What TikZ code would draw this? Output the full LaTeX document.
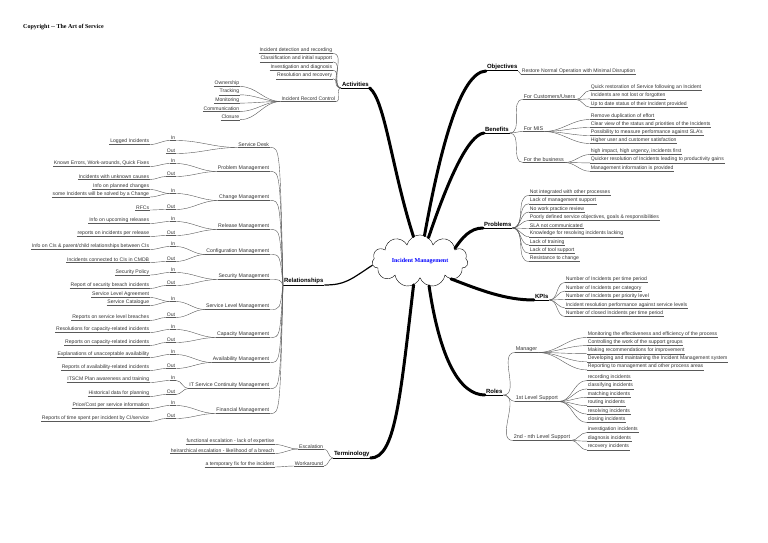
\documentclass[tikz,border=0pt]{standalone}
\usepackage{fontspec}
\setmainfont{Liberation Sans}
\newfontfamily\serifb{Liberation Serif}
\usetikzlibrary{shapes.symbols}
\tikzset{
 x=1pt,y=-1pt,
 ulbase/.style={inner sep=0.7pt,text=black!80,
   append after command={\pgfextra{\draw[conn] (\tikzlastnode.south west)--(\tikzlastnode.south east);}}},
 rleaf/.style={ulbase,anchor=south west,font=\fontsize{5.1}{6}\selectfont},
 lleaf/.style={ulbase,anchor=south east,font=\fontsize{5.1}{6}\selectfont},
 rsub/.style={ulbase,anchor=south west,font=\fontsize{5.4}{6}\selectfont},
 lsub/.style={ulbase,anchor=south east,font=\fontsize{5.2}{6}\selectfont},
 mainlab/.style={inner sep=0.8pt,anchor=south west,font=\bfseries\fontsize{6}{7}\selectfont,
   append after command={\pgfextra{\draw[line width=1pt] (\tikzlastnode.south west)--(\tikzlastnode.south east);}}},
 conn/.style={draw=black!65,line width=0.4pt},
 trunk/.style={draw=black,line width=3pt,line cap=round},
}
\newcommand\relsub[5]{%
 \node[lsub] (#1) at (270,#3+2.5) {#2};
 \draw[conn] (rel.south west) .. controls (280,#3+2.5) .. (#1.south east);
 \node[lleaf] (#1in) at (176,#4+2.5) {In};
 \node[lleaf] (#1out) at (176,#5+2.5) {Out};
 \draw[conn] (#1in.south east) to[out=0,in=180] (#1.south west);
 \draw[conn] (#1out.south east) to[out=0,in=180] (#1.south west);}
\newcommand\lf[4]{%
 \node[lleaf] (#1) at (150,#3+2.5) {#4};
 \draw[conn] (#1.south east) to[out=0,in=180] (#2.south west);}
\begin{document}
\begin{tikzpicture}
\useasboundingbox[fill=white] (0,0) rectangle (768,543);
\node[anchor=west,font=\serifb\bfseries\fontsize{6}{7}\selectfont,inner sep=0] (copy) at (23,27) {Copyright -- The Art of Service};
% centre
\node[cloud,draw,cloud puffs=11,aspect=2.2,minimum width=96,minimum height=46,inner sep=0,
  font=\serifb\bfseries\fontsize{6}{7}\selectfont,text=blue] (im) at (420,261) {Incident Management};
% main labels
\node[mainlab] (act) at (341,88) {Activities};
\node[mainlab] (obj) at (486,71) {Objectives};
\node[mainlab] (ben) at (484,133) {Benefits};
\node[mainlab] (prob) at (483,228) {Problems};
\node[mainlab] (kpi) at (534,300) {KPIs};
\node[mainlab] (roles) at (485,395) {Roles};
\node[mainlab] (term) at (333,458) {Terminology};
\node[mainlab] (rel) at (283,285) {Relationships};
% trunks
\draw[trunk] (im.105) .. controls (392,170) and (385,100) .. (act.south east);
\draw[trunk] (im.80) .. controls (440,150) and (460,72) .. (obj.south west);
\draw[trunk] (im.70) .. controls (448,180) and (468,135) .. (ben.south west);
\draw[trunk] (im.20) .. controls (462,238) and (470,228) .. (prob.south west);
\draw[trunk] (im.-30) .. controls (480,290) and (505,300) .. (kpi.south west);
\draw[trunk] (im.-70) .. controls (440,360) and (460,395) .. (roles.south west);
\draw[trunk] (im.-105) .. controls (400,400) and (395,458) .. (term.south east);
\draw[draw=black,line width=1.2pt] (im.185) .. controls (350,280) and (345,285) .. (rel.south east);
% Activities
\foreach \t [count=\i] in {Incident detection and recording,Classification and initial support,Investigation and diagnosis,Resolution and recovery}{
 \node[lleaf] (a\i) at (333,{51+(\i-1)*8.4+2.5}) {\t};
 \draw[conn] (a\i.south east) to[out=0,in=180] (act.south west);}
\node[lleaf] (irc) at (336,101.5) {Incident Record Control};
\draw[conn] (irc.south east) to[out=0,in=180] (act.south west);
\foreach \t [count=\i] in {Ownership,Tracking,Monitoring,Communication,Closure}{
 \node[lleaf] (ir\i) at (240,{84+(\i-1)*8.3+2.5}) {\t};
 \draw[conn] (ir\i.south east) to[out=0,in=180] (irc.south west);}
% Objectives
\node[rleaf] (o1) at (521,74.5) {Restore Normal Operation with Minimal Disruption};
\draw[conn] (obj.south east) to[out=0,in=180] (o1.south west);
% Benefits
\node[rsub] (bc) at (523,99.5) {For Customers/Users};
\node[rsub] (bm) at (523,131.5) {For MIS};
\node[rsub] (bb) at (523,162.5) {For the business};
\foreach \s in {bc,bm,bb}{\draw[conn] (ben.south east) to[out=0,in=180] (\s.south west);}
\foreach \t [count=\i] in {Quick restoration of Service following an Incident,Incidents are not lost or forgotten,Up to date status of their Incident provided}{
 \node[rleaf] (bc\i) at (590,{88+(\i-1)*8.4+2.5}) {\t};
 \draw[conn] (bc.south east) to[out=0,in=180] (bc\i.south west);}
\foreach \t [count=\i] in {Remove duplication of effort,Clear view of the status and priorities of the Incidents,Possibility to measure performance against SLA's,Higher user and customer satisfaction}{
 \node[rleaf] (bm\i) at (590,{117+(\i-1)*8+2.5}) {\t};
 \draw[conn] (bm.south east) to[out=0,in=180] (bm\i.south west);}
\foreach \t [count=\i] in {{high impact, high urgency, incidents first},Quicker resolution of Incidents leading to productivity gains,Management information is provided}{
 \node[rleaf] (bb\i) at (590,{152+(\i-1)*8.4+2.5}) {\t};
 \draw[conn] (bb.south east) to[out=0,in=180] (bb\i.south west);}
% Problems
\foreach \t [count=\i] in {Not integrated with other processes,Lack of management support,No work practice review,{Poorly defined service objectives, goals \& responsibilities},SLA not communicated,Knowledge for resolving incidents lacking,Lack of training,Lack of tool support,Resistance to change}{
 \node[rleaf] (p\i) at (529,{193+(\i-1)*8.25+2.5}) {\t};
 \draw[conn] (prob.south east) to[out=0,in=180] (p\i.south west);}
% KPIs
\foreach \t [count=\i] in {Number of Incidents per time period,Number of Incidents per category,Number of Incidents per priority level,Incident resolution performance against service levels,Number of closed Incidents per time period}{
 \node[rleaf] (k\i) at (565,{280+(\i-1)*8.5+2.5}) {\t};
 \draw[conn] (kpi.south east) to[out=0,in=180] (k\i.south west);}
% Roles
\node[rsub] (rm) at (515,352.5) {Manager};
\node[rsub] (r1) at (515,401.5) {1st Level Support};
\node[rsub] (r2) at (513,440.5) {2nd - nth Level Support};
\foreach \s in {rm,r1,r2}{\draw[conn] (roles.south east) to[out=0,in=180] (\s.south west);}
\foreach \t [count=\i] in {Monitoring the effectiveness and efficiency of the process,Controlling the work of the support groups,Making recommendations for improvement,Developing and maintaining the Incident Management system,Reporting to management and other process areas}{
 \node[rleaf] (rm\i) at (587,{335+(\i-1)*8.1+2.5}) {\t};
 \draw[conn] (rm.south east) to[out=0,in=180] (rm\i.south west);}
\foreach \t [count=\i] in {recording incidents,classifying incidents,matching incidents,routing incidents,resolving incidents,closing incidents}{
 \node[rleaf] (r1\i) at (587,{378+(\i-1)*8.4+2.5}) {\t};
 \draw[conn] (r1.south east) to[out=0,in=180] (r1\i.south west);}
\foreach \t [count=\i] in {investigation incidents,diagnosis incidents,recovery incidents}{
 \node[rleaf] (r2\i) at (587,{430+(\i-1)*8.7+2.5}) {\t};
 \draw[conn] (r2.south east) to[out=0,in=180] (r2\i.south west);}
% Terminology
\node[lsub] (esc) at (324,449) {Escalation};
\node[lsub] (wa) at (324,466) {Workaround};
\foreach \s in {esc,wa}{\draw[conn] (\s.south east) to[out=0,in=180] (term.south west);}
\node[lleaf] (t1) at (275,444.5) {functional escalation - lack of expertise};
\node[lleaf] (t2) at (275,453.5) {heirarchical escalation - likelihood of a breach};
\node[lleaf] (t3) at (275,467) {a temporary fix for the incident};
\draw[conn] (t1.south east) to[out=0,in=180] (esc.south west);
\draw[conn] (t2.south east) to[out=0,in=180] (esc.south west);
\draw[conn] (t3.south east) to[out=0,in=180] (wa.south west);
% Relationships
\relsub{sd}{Service Desk}{145}{138}{151}
\lf{sd1}{sdin}{142}{Logged Incidents}
\relsub{pm}{Problem Management}{169}{161}{174}
\lf{pm1}{pmin}{164}{Known Errors, Work-arounds, Quick Fixes}
\lf{pm2}{pmout}{177}{Incidents with unknown causes}
\relsub{cm}{Change Management}{198}{191}{207}
\lf{cm1}{cmin}{187}{Info on planned changes}
\lf{cm2}{cmin}{194.5}{some Incidents will be solved by a Change}
\lf{cm3}{cmout}{207.5}{RFCs}
\relsub{rlm}{Release Management}{227}{219}{233}
\lf{rlm1}{rlmin}{221}{Info on upcoming releases}
\lf{rlm2}{rlmout}{234}{reports on incidents per release}
\relsub{cfm}{Configuration Management}{252}{244}{259}
\lf{cfm1}{cfmin}{247}{Info on CIs \& parent/child relationships between CIs}
\lf{cfm2}{cfmout}{260}{Incidents connected to CIs in CMDB}
\relsub{sm}{Security Management}{277}{270}{283}
\lf{sm1}{smin}{272.5}{Security Policy}
\lf{sm2}{smout}{286}{Report of security breach incidents}
\relsub{slm}{Service Level Management}{307}{299}{315}
\lf{slm1}{slmin}{295}{Service Level Agreement}
\lf{slm2}{slmin}{303}{Service Catalogue}
\lf{slm3}{slmout}{318}{Reports on service level breaches}
\relsub{cpm}{Capacity Management}{335}{327}{340}
\lf{cpm1}{cpmin}{330}{Resolutions for capacity-related incidents}
\lf{cpm2}{cpmout}{343}{Reports on capacity-related incidents}
\relsub{avm}{Availability Management}{360}{352}{366}
\lf{avm1}{avmin}{355}{Explanations of unacceptable availability}
\lf{avm2}{avmout}{368}{Reports of availability-related incidents}
\relsub{itm}{IT Service Continuity Management}{386}{378}{392}
\lf{itm1}{itmin}{380}{ITSCM Plan awareness and training}
\lf{itm2}{itmout}{394}{Historical data for planning}
\relsub{fm}{Financial Management}{411}{403}{416}
\lf{fm1}{fmin}{406}{Price/Cost per service information}
\lf{fm2}{fmout}{419}{Reports of time spent per incident by CI/service}
\end{tikzpicture}
\end{document}
